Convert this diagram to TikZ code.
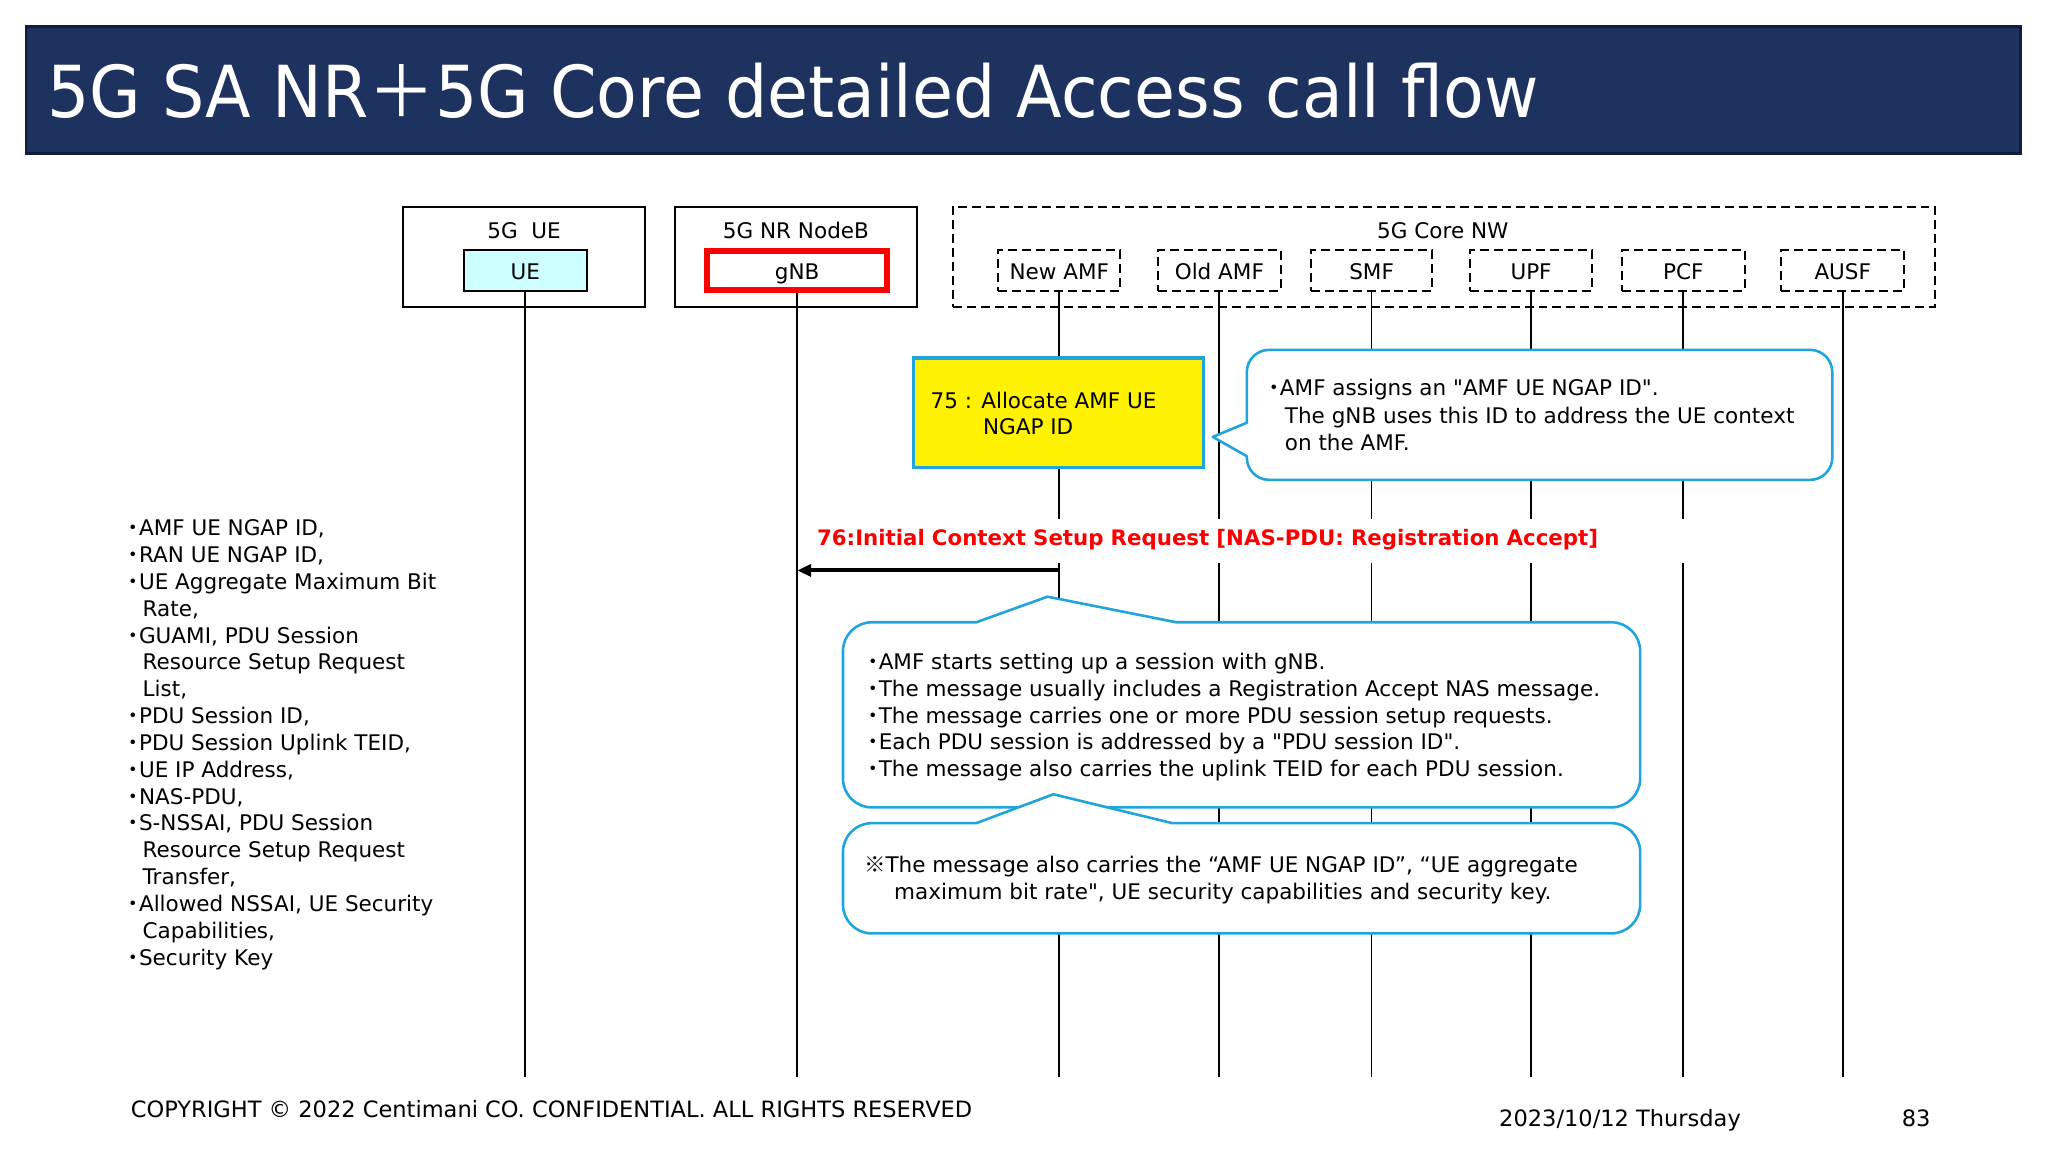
\documentclass[tikz,border=0pt]{standalone}
\usepackage{graphicx}
\usepackage{fontspec}
\setmainfont{DejaVu Sans}[Ligatures=TeXOff]
\newfontfamily\jpfont{Noto Sans CJK JP}
\usetikzlibrary{fit,arrows.meta}
\definecolor{navy}{RGB}{30,50,96}
\definecolor{navyedge}{RGB}{16,30,62}
\definecolor{cblue}{RGB}{32,164,220}
\definecolor{uecyan}{RGB}{204,255,255}
\definecolor{msgred}{RGB}{250,0,0}
\newcommand\bul{\makebox[0.5em][c]{\smash{\jpfont ・}}}
\newcommand\refmark{\smash{\jpfont ※}}
\newcommand\bodyfont{\fontsize{21.6}{27}\selectfont}
\begin{document}
\begin{tikzpicture}[x=1.3128bp, y=-1.3128bp,
  txt/.style={anchor=base west, inner sep=0, font=\bodyfont},
  ctxt/.style={anchor=base, inner sep=0, font=\bodyfont},
  hdr/.style={draw=black, line width=2pt, inner sep=0},
  dbox/.style={draw=black, line width=2pt, dash pattern=on 9pt off 5pt, inner sep=0},
  life/.style={draw=black, line width=1.9pt},
  msg/.style={draw=black, line width=4pt, -{Triangle[length=14pt,width=12pt]}},
  bubble/.style={draw=cblue, fill=white, line width=2.6pt, line join=round},
  ftxt/.style={anchor=base west, inner sep=0, font=\fontsize{22.6}{27}\selectfont}]
\useasboundingbox (0,0) rectangle (1560,877.5);
\fill[white] (0,0) rectangle (1560,877.5);
\begin{scope}[xscale=0.9955]
% title
\node[fit={(20,20)(1546,117)}, fill=navy, draw=navyedge, line width=2.5pt, inner sep=0] (titlebar) {};
\node[anchor=base west, inner sep=0, text=white, font=\fontsize{72}{84}\selectfont] (title) at (36,89.4) {\scalebox{0.928}[1]{5G SA NR{\jpfont ＋}5G Core detailed Access call flow}};
% header boxes
\node[hdr, fit={(308.5,157.5)(493.5,234)}] (uebox) {};
\node[hdr, fit={(355,190.5)(449,221.5)}, fill=uecyan] (ue) {};
\node[hdr, fit={(516.5,157.5)(701.5,234)}] (nbbox) {};
\node[hdr, fit={(541,191.5)(679,221)}, draw=red, line width=6pt] (gnb) {};
\node[dbox, fit={(729,157.5)(1480.5,234)}] (core) {};
\node[dbox, fit={(764,190.5)(857,221.5)}] (amfn) {};
\node[dbox, fit={(886,190.5)(980,221.5)}] (amfo) {};
\node[dbox, fit={(1003,190.5)(1096,221.5)}] (smf) {};
\node[dbox, fit={(1125,190.5)(1218,221.5)}] (upf) {};
\node[dbox, fit={(1241,190.5)(1335,221.5)}] (pcf) {};
\node[dbox, fit={(1363,190.5)(1457,221.5)}] (ausf) {};
\node[ctxt] (uebox-t) at (401,181.6) {5G\ \ UE};
\node[ctxt] (ue-t) at (402,212.8) {UE};
\node[ctxt] (nbbox-t) at (609,181.6) {5G NR NodeB};
\node[ctxt] (gnb-t) at (610,212.8) {gNB};
\node[ctxt] (core-t) at (1104,182) {5G Core NW};
\node[ctxt] (amfn-t) at (810.5,213) {New AMF};
\node[ctxt] (amfo-t) at (933,213) {Old AMF};
\node[ctxt] (smf-t) at (1049.5,213) {SMF};
\node[ctxt] (upf-t) at (1171.5,213) {UPF};
\node[ctxt] (pcf-t) at (1288,213) {PCF};
\node[ctxt] (ausf-t) at (1410,213) {AUSF};
% lifelines
\coordinate (bot) at (0,820);
\foreach \n in {ue,gnb,amfn,amfo,smf,upf,pcf,ausf}
  \draw[life] (\n.south) -- (\n.south |- bot);
% message 76
\node[anchor=base west, fill=white, inner xsep=9.2pt, inner ysep=11.3pt, text height=16pt, text depth=6pt, text width=877pt, align=left, text=msgred, font=\bfseries\fontsize{21.4}{27}\selectfont] (m76) at (618,415.7) {76:Initial Context Setup Request [NAS-PDU: Registration Accept]};
\coordinate (y76) at (0,434.5);
\draw[msg] (amfn.south |- y76) -- (gnb.south |- y76);
% step 75
\node[fit={(699,272.5)(921,356)}, fill=yellow, draw=cblue, line width=3.6pt, inner sep=0] (yel) {};
\node[txt] (yel-a) at (712,311) {75 : Allocate AMF UE};
\node[txt] (yel-b) at (752,330.8) {NGAP ID};
% callout 1
\draw[bubble] (954,322) -- (928,332.8) -- (954,347.5) -- (954,348.5) .. controls (954,357.9) and (961.6,365.5) .. (971,365.5) -- (1385,365.5) .. controls (1394.4,365.5) and (1402,357.9) .. (1402,348.5) -- (1402,283.5) .. controls (1402,274.1) and (1394.4,266.5) .. (1385,266.5) -- (971,266.5) .. controls (961.6,266.5) and (954,274.1) .. (954,283.5) -- cycle;
\node[txt] (c1a) at (971,301.6) {\bul AMF assigns an "AMF UE NGAP ID".};
\node[txt] (c1b) at (983,322.5) {The gNB uses this ID to address the UE context};
\node[txt] (c1c) at (983,342.8) {on the AMF.};
% callout 2
\draw[bubble] (747,474) -- (801.5,454.5) -- (900,474) -- (1233,474) .. controls (1245.1,474) and (1255,483.9) .. (1255,496) -- (1255,593) .. controls (1255,605.1) and (1245.1,615) .. (1233,615) -- (667,615) .. controls (654.9,615) and (645,605.1) .. (645,593) -- (645,496) .. controls (645,483.9) and (654.9,474) .. (667,474) -- cycle;
\node[txt] (c2a) at (664,510) {\bul AMF starts setting up a session with gNB.};
\node[txt] (c2b) at (664,530.4) {\bul The message usually includes a Registration Accept NAS message.};
\node[txt] (c2c) at (664,550.8) {\bul The message carries one or more PDU session setup requests.};
\node[txt] (c2d) at (664,571.2) {\bul Each PDU session is addressed by a "PDU session ID".};
\node[txt] (c2e) at (664,591.6) {\bul The message also carries the uplink TEID for each PDU session.};
% callout 3
\draw[bubble] (747,627) -- (806,605) -- (897,627) -- (1233,627) .. controls (1245.1,627) and (1255,636.9) .. (1255,649) -- (1255,689) .. controls (1255,701.1) and (1245.1,711) .. (1233,711) -- (667,711) .. controls (654.9,711) and (645,701.1) .. (645,689) -- (645,649) .. controls (645,636.9) and (654.9,627) .. (667,627) -- cycle;
\node[txt] (c3a) at (661,664.8) {\refmark The message also carries the “AMF UE NGAP ID”, “UE aggregate};
\node[txt] (c3b) at (684,685) {maximum bit rate", UE security capabilities and security key.};
% parameter list
\foreach \xx/\lt [count=\i from 0] in {
  98/{\bul AMF UE NGAP ID,},
  98/{\bul RAN UE NGAP ID,},
  98/{\bul UE Aggregate Maximum Bit},
  109/{Rate,},
  98/{\bul GUAMI, PDU Session},
  109/{Resource Setup Request},
  109/{List,},
  98/{\bul PDU Session ID,},
  98/{\bul PDU Session Uplink TEID,},
  98/{\bul UE IP Address,},
  98/{\bul NAS-PDU,},
  98/{\bul S-NSSAI, PDU Session},
  109/{Resource Setup Request},
  109/{Transfer,},
  98/{\bul Allowed NSSAI, UE Security},
  109/{Capabilities,},
  98/{\bul Security Key}}
  \node[txt] (l\i) at (\xx,408+20.45*\i) {\lt};
% footer
\node[ftxt] (copy) at (100,851) {COPYRIGHT © 2022 Centimani CO. CONFIDENTIAL. ALL RIGHTS RESERVED};
\node[ftxt] (date) at (1147,857.7) {2023/10/12 Thursday};
\node[ftxt] (pg) at (1455,857.7) {83};
\end{scope}
\end{tikzpicture}
\end{document}
